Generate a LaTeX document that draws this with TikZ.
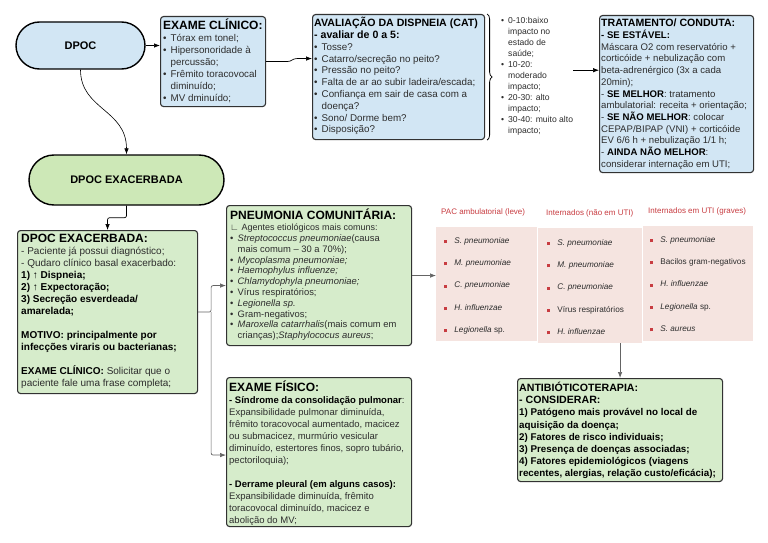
\documentclass[tikz,border=0pt]{standalone}
\usepackage{fontspec}
\setmainfont{Liberation Sans}
\usetikzlibrary{arrows.meta,decorations.pathreplacing,calc}
\definecolor{bluef}{RGB}{210,230,244}
\definecolor{greenf}{RGB}{214,236,203}
\definecolor{greeno}{RGB}{205,232,183}
\definecolor{pinkf}{RGB}{245,228,224}
\definecolor{redt}{RGB}{200,60,65}
\definecolor{bord}{RGB}{50,50,50}
\definecolor{txt}{RGB}{45,45,45}
\definecolor{lgray}{RGB}{100,100,100}
\newcommand\bul{\makebox[7.5pt][l]{\textbullet}}
\newcommand\ind{\hspace*{7.5pt}}
\newcommand\sq{\textcolor{redt}{\rule{3.2pt}{3.2pt}}\hspace{7pt}}
\newcommand\bk[1]{\textbf{\textcolor{black}{#1}}}
\newcommand\ttl{\fontsize{12}{14}\selectfont\bfseries\color{black}}
\newcommand\ttm{\fontsize{10.6}{12}\selectfont\bfseries\color{black}}
\tikzset{
  box/.style={draw=bord, line width=1.1pt, rounded corners=3pt, anchor=north west, inner sep=0},
  oval/.style={draw=black, line width=1.4pt, inner sep=0, font=\fontsize{11}{13}\selectfont\bfseries},
  txtn/.style={anchor=north west, inner sep=0, align=left, text=txt, font=\fontsize{9.7}{12}\selectfont},
  arr/.style={-{Latex[length=6pt,width=4.5pt]}, line width=0.7pt, draw=black},
  garr/.style={arr, draw=lgray},
  col/.style={fill=pinkf, anchor=north west, inner sep=0},
  hdr/.style={anchor=west, text=redt, inner sep=0, font=\fontsize{8}{9}\selectfont},
  items/.style={anchor=north west, inner sep=0, align=left, text=txt, font=\fontsize{8.2}{22.3}\selectfont}
}
\begin{document}
\begin{tikzpicture}[x=1pt,y=-1pt]
\fill[white] (0,0) rectangle (768,543);
\useasboundingbox (0,0) rectangle (768,543);

% ---- top row
\node[oval, fill=bluef, minimum width=129pt, minimum height=47pt, rounded corners=23.5pt] (dpoc) at (80.5,45.5) {DPOC};

\node[box, fill=bluef, minimum width=105pt, minimum height=90pt] (exame) at (160,16) {};
\node[txtn, font=\fontsize{9.8}{12}\selectfont] (exameT) at ([shift={(3pt,-3pt)}]exame.north west) {{\ttl EXAME CLÍNICO:}\\
\bul Tórax em tonel;\\
\bul Hipersonoridade à\\
\ind percussão;\\
\bul Frêmito toracovocal\\
\ind diminuído;\\
\bul MV dminuído;};

\node[box, fill=bluef, minimum width=172pt, minimum height=125pt] (cat) at (312,14) {};
\node[txtn, font=\fontsize{9.8}{11.8}\selectfont] (catT) at ([shift={(2pt,-3pt)}]cat.north west) {{\ttm AVALIAÇÃO DA DISPNEIA (CAT)}\\
{\ttm - avaliar de 0 a 5:}\\
\bul Tosse?\\
\bul Catarro/secreção no peito?\\
\bul Pressão no peito?\\
\bul Falta de ar ao subir ladeira/escada;\\
\bul Confiança em sair de casa com a\\
\ind doença?\\
\bul Sono/ Dorme bem?\\
\bul Disposição?};

\draw[line width=0.8pt, decorate, decoration={brace, amplitude=5pt}] ([xshift=2pt]cat.north east) -- ([xshift=2pt]cat.south east);

\node[anchor=north west, inner sep=0, align=left, text=txt, font=\fontsize{8.6}{11}\selectfont] (lst) at (501,17) {%
\makebox[7pt][l]{\textbullet}0-10:baixo\\
\hspace*{7pt}impacto no\\
\hspace*{7pt}estado de\\
\hspace*{7pt}saúde;\\
\makebox[7pt][l]{\textbullet}10-20:\\
\hspace*{7pt}moderado\\
\hspace*{7pt}impacto;\\
\makebox[7pt][l]{\textbullet}20-30: alto\\
\hspace*{7pt}impacto;\\
\makebox[7pt][l]{\textbullet}30-40: muito alto\\
\hspace*{7pt}impacto;};
\coordinate (la) at ([yshift=6pt]lst.east);

\node[box, fill=bluef, minimum width=154pt, minimum height=157pt] (trat) at (599,15) {};
\node[txtn, font=\fontsize{9.6}{11.7}\selectfont] (tratT) at ([shift={(2pt,-4pt)}]trat.north west) {{\ttm TRATAMENTO/ CONDUTA:}\\
\bk{- SE ESTÁVEL:}\\
Máscara O2 com reservatório +\\
corticóide + nebulização com\\
beta-adrenérgico (3x a cada\\
20min);\\
- \bk{SE MELHOR}: tratamento\\
ambulatorial: receita + orientação;\\
- \bk{SE NÃO MELHOR}: colocar\\
CEPAP/BIPAP (VNI) + corticóide\\
EV 6/6 h + nebulização 1/1 h;\\
- \bk{AINDA NÃO MELHOR}:\\
considerar internação em UTI;};

% ---- exacerbada
\node[oval, fill=greeno, minimum width=195pt, minimum height=50pt, rounded corners=25pt] (exac) at (126.5,180) {DPOC EXACERBADA};

\node[box, fill=greenf, minimum width=180pt, minimum height=163pt] (dexa) at (17,230) {};
\node[txtn, font=\fontsize{10}{12}\selectfont] (dexaT) at ([shift={(4pt,-4pt)}]dexa.north west) {{\ttl DPOC EXACERBADA:}\\
- Paciente já possui diagnóstico;\\
- Qudaro clínico basal exacerbado:\\
\bk{1) {\mdseries ↑} Dispneia;}\\
\bk{2) {\mdseries ↑} Expectoração;}\\
\bk{3) Secreção esverdeada/}\\
\bk{amarelada;}\\
\mbox{}\\
\bk{MOTIVO: principalmente por}\\
\bk{infecções viraris ou bacterianas;}\\
\mbox{}\\
\bk{EXAME CLÍNICO:} Solicitar que o\\
paciente fale uma frase completa;};

\node[box, fill=greenf, minimum width=185pt, minimum height=140pt] (pneu) at (226,205) {};
\node[txtn, font=\fontsize{9.4}{10.8}\selectfont] (pneuT) at ([shift={(4pt,-4pt)}]pneu.north west) {{\ttl PNEUMONIA COMUNITÁRIA:}\\
{\fontsize{9}{10}\selectfont ∟ Agentes etiológicos mais comuns:}\\
\bul\textit{Streptococcus pneumoniae}(causa\\
\ind mais comum -- 30 a 70\%);\\
\bul\textit{Mycoplasma pneumoniae;}\\
\bul\textit{Haemophylus influenze;}\\
\bul\textit{Chlamydophyla pneumoniae;}\\
\bul Vírus respiratórios;\\
\bul\textit{Legionella sp.}\\
\bul Gram-negativos;\\
\bul\textit{Maroxella catarrhalis}(mais comum em\\
\ind crianças);\textit{Staphylococus aureus};};

\node[box, fill=greenf, minimum width=185pt, minimum height=149pt] (fis) at (226,377) {};
\node[txtn, font=\fontsize{9.5}{12}\selectfont] (fisT) at ([shift={(3pt,-4pt)}]fis.north west) {{\ttl EXAME FÍSICO:}\\
\bk{- Síndrome da consolidação pulmonar}:\\
Expansibilidade pulmonar diminuída,\\
frêmito toracovocal aumentado, macicez\\
ou submacicez, murmúrio vesicular\\
diminuído, estertores finos, sopro tubário,\\
pectoriloquia);\\
\mbox{}\\
\bk{- Derrame pleural (em alguns casos):}\\
Expansibilidade diminuída, frêmito\\
toracovocal diminuído, macicez e\\
abolição do MV;};

% ---- table
\node[col, minimum width=101pt, minimum height=114pt] (col1) at (436,227) {};
\node[col, minimum width=104pt, minimum height=115pt] (col2) at (538,228) {};
\node[col, minimum width=110pt, minimum height=115pt] (col3) at (643,226) {};
\node[hdr] (h1) at (441,212) {PAC ambulatorial (leve)};
\node[hdr] (h2) at (546,213) {Internados (não em UTI)};
\node[hdr] (h3) at (648,211) {Internados em UTI (graves)};
\node[items] (l1) at (444,237) {\sq\textit{S. pneumoniae}\\ \sq\textit{M. pneumoniae}\\ \sq\textit{C. pneumoniae}\\ \sq\textit{H. influenzae}\\ \sq\textit{Legionella} sp.};
\node[items] (l2) at (547,239) {\sq\textit{S. pneumoniae}\\ \sq\textit{M. pneumoniae}\\ \sq\textit{C. pneumoniae}\\ \sq Vírus respiratórios\\ \sq\textit{H. influenzae}};
\node[items] (l3) at (650,236) {\sq\textit{S. pneumoniae}\\ \sq Bacilos gram-negativos\\ \sq\textit{H. influenzae}\\ \sq\textit{Legionella} sp.\\ \sq\textit{S. aureus}};

\node[box, fill=greenf, minimum width=205pt, minimum height=103pt] (antib) at (517,378) {};
\node[txtn, font=\fontsize{9.8}{12.2}\selectfont\bfseries, text=black] (antibT) at ([shift={(2pt,-4pt)}]antib.north west) {{\ttm ANTIBIÓTICOTERAPIA:}\\
{\ttm - CONSIDERAR:}\\
1) Patógeno mais provável no local de\\
aquisição da doença;\\
2) Fatores de risco individuais;\\
3) Presença de doenças associadas;\\
4) Fatores epidemiológicos (viagens\\
recentes, alergias, relação custo/eficácia);};

% ---- connectors
\draw[arr] (dpoc.east) -- (dpoc.east -| exame.west);
\draw[arr] (exame.east) -- ++(21,0) coordinate (w1)
  .. controls ([xshift=5pt]w1) and ([xshift=5pt,yshift=3pt]w1) .. ([xshift=10pt,yshift=3pt]w1) coordinate (w2)
  -- (w2 -| cat.west);
\draw[arr] (la) -- (la -| trat.west);
\draw[arr, line width=0.6pt] (dpoc.south) .. controls ([yshift=-40pt]dpoc.south) and ([yshift=45pt]exac.north) .. (exac.north);
\draw[arr, rounded corners=2pt] (exac.south) -- ++(0,12) -| (dexa.north);
\draw[garr, rounded corners=2pt] (dexa.east) -- ++(13,0) coordinate (sp) |- ([yshift=-10pt]pneu.west);
\draw[garr, rounded corners=2pt] (sp) |- ([yshift=-3pt]fis.west);
\draw[garr] (pneu.east) -- (pneu.east -| col1.west);
\draw[garr] (antib.north |- col2.south) -- (antib.north);
\end{tikzpicture}
\end{document}
